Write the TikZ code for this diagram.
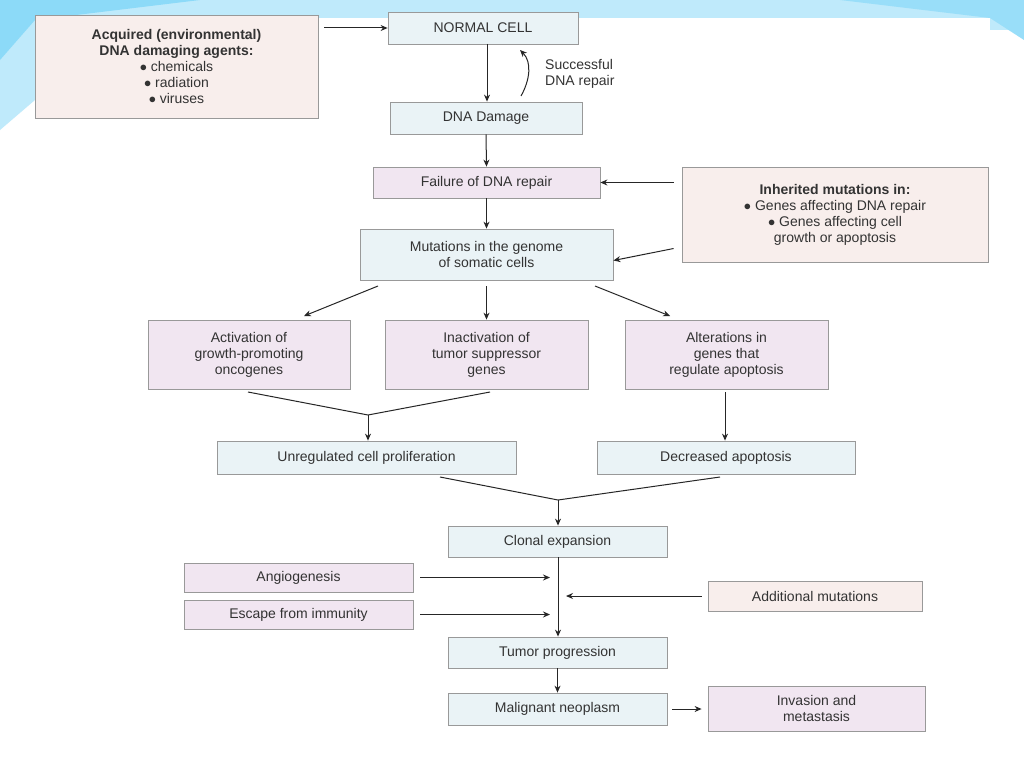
\documentclass[tikz,border=0pt]{standalone}
\usepackage{fontspec}
\setmainfont{Liberation Sans}
\usetikzlibrary{arrows.meta}
\definecolor{bl}{HTML}{EAF3F6}
\definecolor{lv}{HTML}{F1E6F1}
\definecolor{pk}{HTML}{F8EEEC}
\definecolor{tx}{HTML}{333333}
\begin{document}
\begin{tikzpicture}[x=1pt,y=-1pt,
 bx/.style={draw=gray!80,line width=0.8pt,text=tx,align=center,font=\fontsize{14}{16}\selectfont,inner sep=0pt},
 ar/.style={-{Stealth[length=7pt,width=6pt]},line width=1pt,draw=black!85},
 ln/.style={line width=1pt,draw=black!85}]
\useasboundingbox (0,0) rectangle (1024,768);
\fill[white] (0,0) rectangle (1024,768);
\fill[cyan!25] (0,0) -- (1024,0) -- (1024,30) -- (990,30) -- (990,18) -- (35,18) -- (35,100) -- (0,130) -- cycle;
\fill[cyan!45] (0,0) -- (200,0) -- (35,20) -- (0,60) -- cycle;
\fill[cyan!40] (1024,0) -- (840,0) -- (990,18) -- (1024,40) -- cycle;
\node[bx,fill=pk,minimum width=283,minimum height=103,font=\fontsize{14}{16}\selectfont] (acq) at (176.5,66.5) {\textbf{Acquired (environmental)}\\\textbf{DNA damaging agents:}\\$\bullet$ chemicals\\$\bullet$ radiation\\$\bullet$ viruses};
\node[bx,fill=bl,minimum width=190,minimum height=32] (nc) at (483,28) {NORMAL CELL};
\node[bx,fill=bl,minimum width=192,minimum height=32] (dd) at (486,118) {DNA Damage};
\node[bx,fill=lv,minimum width=227,minimum height=31] (fr) at (486.5,182.5) {Failure of DNA repair};
\node[bx,fill=pk,minimum width=306,minimum height=95] (inh) at (835,214.5) {\textbf{Inherited mutations in:}\\$\bullet$ Genes affecting DNA repair\\$\bullet$ Genes affecting cell\\growth or apoptosis};
\node[bx,fill=bl,minimum width=253,minimum height=51] (mut) at (486.5,254.5) {Mutations in the genome\\of somatic cells};
\node[bx,fill=lv,minimum width=202,minimum height=69] (act) at (249,354.5) {Activation of\\growth-promoting\\oncogenes};
\node[bx,fill=lv,minimum width=203,minimum height=69] (ina) at (486.5,354.5) {Inactivation of\\tumor suppressor\\genes};
\node[bx,fill=lv,minimum width=203,minimum height=69] (alt) at (726.5,354.5) {Alterations in\\genes that\\regulate apoptosis};
\node[bx,fill=bl,minimum width=299,minimum height=33] (unr) at (366.5,457.5) {Unregulated cell proliferation};
\node[bx,fill=bl,minimum width=258,minimum height=33] (dec) at (726,457.5) {Decreased apoptosis};
\node[bx,fill=bl,minimum width=219,minimum height=31] (clo) at (557.5,541.5) {Clonal expansion};
\node[bx,fill=lv,minimum width=229,minimum height=29] (ang) at (298.5,577.5) {Angiogenesis};
\node[bx,fill=lv,minimum width=229,minimum height=29] (esc) at (298.5,614.5) {Escape from immunity};
\node[bx,fill=pk,minimum width=214,minimum height=30] (add) at (815,596) {Additional mutations};
\node[bx,fill=bl,minimum width=219,minimum height=31] (tum) at (557.5,652.5) {Tumor progression};
\node[bx,fill=bl,minimum width=219,minimum height=32] (mal) at (557.5,709) {Malignant neoplasm};
\node[bx,fill=lv,minimum width=217,minimum height=45] (inv) at (816.5,708.5) {Invasion and\\metastasis};
\node[text=tx,align=left,font=\fontsize{14}{16}\selectfont,anchor=west,inner sep=0pt] (succ) at (545,74) {Successful\\DNA repair};
\draw[ar] (acq.east|-nc) ++(6,0) -- (nc.west);
\draw[ar] (487,44) -- (dd.north-|487,0);
\draw[ar] (521,96) .. controls (530,80) and (532,62) .. (520,50);
\draw[ar] (dd.south) -- (fr.north);
\draw[ar] (fr.south) -- (mut.north);
\draw[ar] (inh.west|-fr) ++(-8,0) -- (fr.east);
\draw[ar] (inh.west|-mut) ++(-8,-6) -- ([yshift=-6]mut.east);
\draw[ar] (378,286) -- (304,316);
\draw[ar] (486.5,286) -- (ina.north);
\draw[ar] (595,286) -- (670,316);
\coordinate (m1) at (368,415);
\draw[ln] (248,392) -- (m1) -- (490,392);
\draw[ar] (m1) -- (unr.north-|m1);
\draw[ar] (725,392) -- (dec.north-|725,0);
\coordinate (m2) at (558,500);
\draw[ln] (440,477) -- (m2) -- (720,477);
\draw[ar] (m2) -- (clo.north-|m2);
\draw[ar] (558,557) -- (tum.north-|558,0);
\draw[ar] ([xshift=7]ang.east) -- (550,577.5);
\draw[ar] ([xshift=7]esc.east) -- (550,614.5);
\draw[ar] ([xshift=-6]add.west) -- (566,596);
\draw[ar] (tum.south) -- (mal.north);
\draw[ar] ([xshift=5]mal.east) -- ([xshift=-6]inv.west|-mal);
\end{tikzpicture}
\end{document}
